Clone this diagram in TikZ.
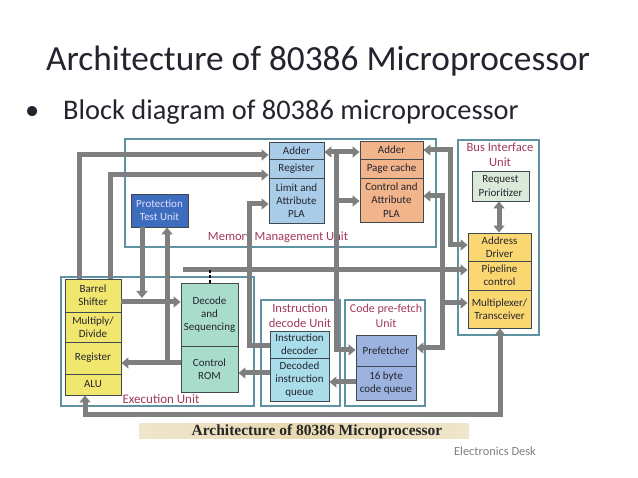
\documentclass[tikz,border=0pt]{standalone}
\usepackage{fontspec}
\setmainfont{Carlito}
\newfontfamily\capfont{Liberation Serif}
\usetikzlibrary{arrows.meta}
\definecolor{frameC}{HTML}{5F93A3}
\definecolor{edgeC}{HTML}{3E4A50}
\definecolor{busC}{HTML}{7F7F7F}
\definecolor{labC}{HTML}{A23A58}
\definecolor{inkC}{HTML}{24242E}
\definecolor{tanC}{HTML}{E6D9B0}
\definecolor{tanL}{HTML}{EFE6CC}
\tikzset{
 cellbox/.style={draw=edgeC,line width=0.9pt,text=inkC,font=\fontsize{11}{13.2}\selectfont,align=center,inner sep=0pt},
 unitframe/.style={draw=frameC,line width=1.1pt},
 unitlabel/.style={text=labC,font=\fontsize{12.6}{15}\selectfont,align=center,inner sep=0pt},
 bus/.style={draw=busC,line width=5pt},
 busto/.style={bus,-{Triangle[length=7pt,width=11pt]}},
 busboth/.style={bus,{Triangle[length=7pt,width=11pt]}-{Triangle[length=7pt,width=11pt]}},
}
\newcommand{\boxat}[7]{% name x1 y1 x2 y2 style text
 \pgfmathsetmacro{\cxx}{(#2+#4)/2}\pgfmathsetmacro{\cyy}{(#3+#5)/2}
 \pgfmathsetmacro{\wdd}{#4-#2}\pgfmathsetmacro{\htt}{#5-#3}
 \node[#6,minimum width=\wdd pt,minimum height=\htt pt] (#1) at (\cxx,\cyy) {#7};}
\begin{document}
\begin{tikzpicture}[x=1pt,y=-1pt]
\useasboundingbox (0,0) rectangle (638,478);
\fill[white] (0,0) rectangle (638,478);
% frames
\boxat{mmu}{125}{139}{436}{247}{unitframe}{}
\boxat{biu}{458}{140}{539}{335}{unitframe}{}
\boxat{eu}{61}{277}{254}{406}{unitframe}{}
\boxat{idu}{261}{300}{340}{406}{unitframe}{}
\boxat{cpu}{345}{300}{425}{406}{unitframe}{}
% title
\node[anchor=base west,inner sep=0pt,text=inkC,font=\fontsize{35.3}{38}\selectfont] (title) at (46,71) {Architecture of 80386 Microprocessor};
\node[anchor=base west,inner sep=0pt,text=inkC,font=\fontsize{28.4}{32}\selectfont] (sub) at (25,120) {\makebox[38pt][l]{•}Block diagram of 80386 microprocessor};
% unit labels
\node[unitlabel] (mmul) at (278,237) {Memory Management Unit};
\node[unitlabel,font=\fontsize{13}{15}\selectfont] (eul) at (161,399) {Execution Unit};
\node[unitlabel] (idul) at (300,316) {Instruction\\decode Unit};
\node[unitlabel,font=\fontsize{12}{15}\selectfont] (cpul) at (386,316) {Code pre-fetch\\Unit};
\node[unitlabel] (biul) at (500,155) {Bus Interface\\Unit};
% free coordinates
\coordinate (a1) at (79,155);
\coordinate (a2) at (110,175);
\coordinate (a8) at (249,204);
\coordinate (j1) at (336,152);
\coordinate (j2) at (336,201);
\coordinate (j3) at (336,350);
\coordinate (c1) at (450,150);
\coordinate (c2) at (450,245);
\coordinate (d1) at (442,196);
\coordinate (d2) at (442,348);
\coordinate (d3) at (442,303);
\coordinate (h1) at (183,270);
\coordinate (k1) at (167,363);
\coordinate (b1) at (85,415);
\coordinate (b2) at (500,415);
% cells
\definecolor{bl}{HTML}{A9CDE8}\definecolor{or}{HTML}{F2B48A}
\definecolor{gr}{HTML}{DCEBD9}\definecolor{ye}{HTML}{FBD771}
\definecolor{yl}{HTML}{F1E66E}\definecolor{te}{HTML}{A9DCCB}
\definecolor{cy}{HTML}{A9DDEA}\definecolor{pu}{HTML}{9DB3DF}\definecolor{pt}{HTML}{3E6DBE}
\boxat{badd}{269}{142}{324}{159}{cellbox,fill=bl}{Adder}
\boxat{breg}{269}{159}{324}{178}{cellbox,fill=bl}{Register}
\boxat{bpla}{269}{178}{324}{223}{cellbox,fill=bl}{Limit and\\Attribute\\PLA}
\boxat{oadd}{360}{141}{423}{159}{cellbox,fill=or}{Adder}
\boxat{opc}{360}{159}{423}{178}{cellbox,fill=or}{Page cache}
\boxat{opla}{360}{178}{423}{222}{cellbox,fill=or}{Control and\\Attribute\\PLA}
\boxat{prot}{131}{194}{188}{227}{cellbox,fill=pt,text=white!88!blue}{Protection\\Test Unit}
\boxat{req}{472}{171}{529}{201}{cellbox,fill=gr}{Request\\Prioritizer}
\boxat{addr}{468}{233}{531}{261}{cellbox,fill=ye}{Address\\Driver}
\boxat{pipe}{468}{261}{531}{290}{cellbox,fill=ye}{Pipeline\\control}
\boxat{mux}{468}{290}{531}{328}{cellbox,fill=ye}{Multiplexer/\\Transceiver}
\boxat{bar}{65}{279}{121}{312}{cellbox,fill=yl}{Barrel\\Shifter}
\boxat{mul}{65}{312}{121}{342}{cellbox,fill=yl}{Multiply/\\Divide}
\boxat{reg}{65}{342}{121}{374}{cellbox,fill=yl}{Register}
\boxat{alu}{65}{374}{121}{395}{cellbox,fill=yl}{ALU}
\boxat{dec}{181}{283}{238}{346}{cellbox,fill=te}{Decode\\and\\Sequencing}
\boxat{rom}{181}{346}{238}{392}{cellbox,fill=te}{Control\\ROM}
\boxat{idec}{270}{331}{329}{358}{cellbox,fill=cy}{Instruction\\decoder}
\boxat{iq}{270}{358}{329}{401}{cellbox,fill=cy}{Decoded\\instruction\\queue}
\boxat{pre}{356}{335}{416}{366}{cellbox,fill=pu}{Prefetcher}
\boxat{cq}{356}{366}{416}{400}{cellbox,fill=pu}{16 byte\\code queue}
% connectors
\draw[busto] (bar.north -| a1) -- (a1) -- (badd.west |- a1);
\draw[busto] (bar.north -| a2) -- (a2) -- (breg.west |- a2);
\draw[busto] (idec.west |- 0,346) -- (249,346) -- (a8) -- (bpla.west |- a8);
\draw[busto] (prot.south -| 142,0) -- (142,298);
\draw[busto] (k1) -- (prot.south -| k1);
\draw[busto] (bar.east |- 0,302) -- (dec.west |- 0,302);
\draw[busto] (rom.west |- k1) -- (reg.east |- k1);
\draw[busto] (iq.west |- 0,373) -- (rom.east |- 0,373);
\draw[busboth] (badd.east |- j1) -- (oadd.west |- j1);
\draw[busto] (j1) -- (j3) -- (pre.west |- j3);
\draw[busto] (j2) -- (opla.west |- j2);
\draw[busboth] (oadd.east |- c1) -- (c1) -- (c2) -- (addr.west |- c2);
\draw[busto] (h1) -- (pipe.west |- h1);
\draw[busboth] (opla.east |- d1) -- (d1) -- (d2) -- (pre.east |- d2);
\draw[busto] (d3) -- (mux.west |- d3);
\draw[busboth] (req.south -| 499,0) -- (addr.north -| 499,0);
\draw[busto] (cq.west |- 0,382) -- (iq.east |- 0,382);
\draw[busboth] (alu.south -| b1) -- (b1) -- (b2) -- (mux.south -| b2);
\draw[black,line width=1.3pt,densely dashed] (dec.north -| 210,0) -- (210,270);
% caption
\fill[left color=tanL,right color=tanL,middle color=tanC] (139,424) rectangle (469,439);
\node[inner sep=0pt,text=black!85,font=\capfont\bfseries\fontsize{15.5}{17}\selectfont] (cap) at (317,431.5) {Architecture of 80386 Microprocessor};
\node[inner sep=0pt,text=black!50,font=\fontsize{12.4}{14}\selectfont] (ed) at (495,451) {Electronics Desk};
\end{tikzpicture}
\end{document}
